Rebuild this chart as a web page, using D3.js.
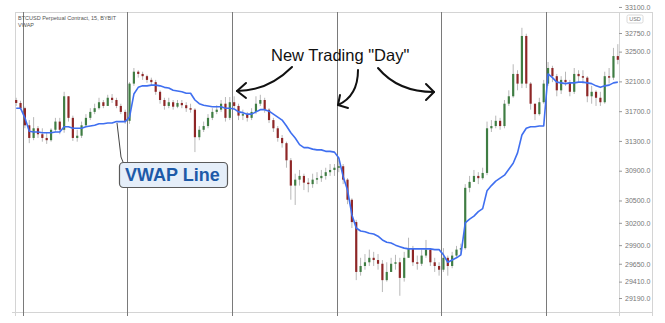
<!DOCTYPE html>
<html>
<head>
<meta charset="utf-8">
<script src="https://cdn.jsdelivr.net/npm/d3@7"></script>
<style>
  html, body { margin: 0; padding: 0; background: #fff; }
  svg { display: block; font-family: "Liberation Sans", Arial, sans-serif; }
</style>
</head>
<body>
<svg id="chart" width="665" height="323"></svg>
<script>
// BTCUSD candles, one per bar slot; open of each bar = previous close
const firstOpen = 31850;
const closes = [
  31810, 31740, 31510, 31340, 31470, 31390, 31340, 31310, 31450, 31560, 31450, 31900,
  31610, 31340, 31370, 31510, 31610, 31690, 31740, 31820, 31770, 31880, 31850, 31770,
  31690, 31570, 32070, 32230, 32200, 32170, 32120, 32090, 31960, 31850, 31770, 31820,
  31760, 31810, 31780, 31740, 31720, 31350, 31450, 31500, 31610, 31690, 31720, 31800,
  31610, 31820, 31770, 31640, 31660, 31610, 31690, 31800, 31850, 31720, 31580, 31470,
  31340, 31270, 31040, 30700, 30780, 30830, 30740, 30720, 30780, 30800, 30830, 30880,
  30910, 30940, 30960, 30780, 30510, 30210, 29540, 29620, 29670, 29730, 29700, 29650,
  29430, 29540, 29650, 29670, 29460, 29730, 29860, 29670, 29650, 29760, 29840, 29670,
  29620, 29570, 29730, 29620, 29760, 29840, 29860, 30670, 30750, 30830, 30800, 30870,
  31470, 31500, 31570, 31500, 31800, 31900, 32200, 32070, 32710, 32070, 31800, 31660,
  31820, 32070, 32280, 32170, 31980, 32120, 32090, 31960, 32200, 32170, 32150, 31900,
  31960, 31880, 31820, 32170, 32150, 32440, 32390
];
const highs = [
  31880, 31840, 31760, 31580, 31620, 31500, 31470, 31410, 31470, 31610, 31610, 31960,
  31900, 31640, 31450, 31560, 31660, 31740, 31800, 31880, 31850, 31920, 31930, 31880,
  31800, 31720, 32090, 32280, 32250, 32230, 32190, 32150, 32120, 31980, 31880, 31880,
  31850, 31850, 31850, 31820, 31800, 31740, 31500, 31560, 31660, 31740, 31780, 31850,
  31890, 31890, 31900, 31800, 31720, 31690, 31740, 31900, 31920, 31880, 31740, 31610,
  31500, 31380, 31290, 31070, 30860, 30910, 30860, 30800, 30860, 30880, 30910, 30940,
  30990, 30990, 31040, 30990, 30800, 30530, 30240, 29730, 29780, 29840, 29810, 29780,
  29700, 29670, 29730, 29770, 29730, 29810, 30000, 29890, 29760, 29840, 29970, 29860,
  29730, 29670, 29860, 29760, 29810, 29890, 29920, 30720, 30830, 30910, 30880, 30940,
  31560, 31580, 31640, 31610, 31850, 31980, 32330, 32250, 32820, 32740, 32090, 31800,
  31880, 32120, 32360, 32310, 32200, 32170, 32230, 32120, 32280, 32250, 32250, 32170,
  32040, 31980, 31960, 32230, 32280, 32550, 32600
];
const lows = [
  31770, 31720, 31470, 31270, 31310, 31340, 31290, 31260, 31290, 31420, 31390, 31410,
  31560, 31300, 31290, 31340, 31490, 31580, 31660, 31720, 31740, 31770, 31810, 31740,
  31660, 31530, 31530, 32040, 32150, 32120, 32080, 32040, 31920, 31800, 31720, 31740,
  31720, 31740, 31740, 31690, 31680, 31150, 31310, 31420, 31470, 31580, 31660, 31690,
  31560, 31580, 31720, 31580, 31580, 31560, 31580, 31660, 31770, 31680, 31540, 31420,
  31290, 31210, 30940, 30510, 30440, 30700, 30640, 30610, 30670, 30720, 30750, 30780,
  30830, 30830, 30880, 30720, 30450, 30130, 29430, 29490, 29570, 29620, 29620, 29570,
  29270, 29410, 29540, 29570, 29220, 29410, 29730, 29620, 29570, 29620, 29730, 29620,
  29540, 29490, 29540, 29490, 29590, 29730, 29780, 29840, 30610, 30750, 30720, 30780,
  30840, 31420, 31470, 31450, 31470, 31770, 31880, 31980, 32010, 32010, 31720, 31580,
  31640, 31800, 32040, 32090, 31900, 31930, 32040, 31900, 31930, 32090, 32070, 31820,
  31800, 31770, 31770, 31800, 32070, 32120, 32330
];
const vwap = [
  31740, 31740, 31610, 31430, 31420, 31420, 31410, 31410, 31410, 31420, 31420, 31490,
  31490, 31470, 31470, 31470, 31490, 31500, 31510, 31530, 31530, 31540, 31540, 31560,
  31560, 31560, 31620, 31930, 32020, 32040, 32040, 32050, 32050, 32040, 32020, 32010,
  31980, 31970, 31960, 31940, 31940, 31850, 31800, 31780, 31770, 31760, 31760, 31760,
  31740, 31740, 31730, 31690, 31680, 31660, 31660, 31690, 31720, 31720, 31700, 31660,
  31620, 31580, 31500, 31410, 31340, 31250, 31210, 31210, 31190, 31180, 31180, 31160,
  31160, 31150, 31070, 30820, 30640, 30310, 30130, 30090, 30080, 30060, 30050, 30020,
  29970, 29940, 29930, 29900, 29880, 29860, 29850, 29850, 29850, 29850, 29850, 29850,
  29840, 29840, 29770, 29670, 29700, 29730, 29770, 30200, 30250, 30290, 30350, 30390,
  30630, 30700, 30760, 30800, 30840, 30920, 31000, 31140, 31380, 31470, 31490, 31490,
  31500, 31500, 32200, 32150, 32090, 32080, 32070, 32080, 32080, 32090, 32090, 32080,
  32070, 32040, 32020, 32040, 32050, 32080, 32090
];
// bar index where each new trading day starts
const dayStarts = [2, 26, 50, 74, 98, 122];
const priceTicks = [33100, 32750, 32500, 32100, 31700, 31300, 30900, 30500, 30200, 29900, 29650, 29410, 29190];

const svg = d3.select("#chart");
const plotLeft = 15, plotRight = 619, plotTop = 12, plotBottom = 312, frameRight = 652;

const x = d3.scaleBand().domain(d3.range(closes.length)).range([14, 620]).padding(0);
const step = x.step();
const bodyW = step * 0.5;
const y = d3.scaleLinear().domain([29190, 32750]).range([298, 33]);

// frame
const frame = svg.append("g").attr("stroke", "#d4d4d4").attr("stroke-width", 1);
frame.append("line").attr("x1", plotLeft).attr("x2", frameRight).attr("y1", plotTop + 0.5).attr("y2", plotTop + 0.5);
frame.append("line").attr("x1", 12).attr("x2", frameRight).attr("y1", plotBottom + 0.5).attr("y2", plotBottom + 0.5);
frame.append("line").attr("x1", plotLeft + 0.5).attr("x2", plotLeft + 0.5).attr("y1", plotTop).attr("y2", plotBottom + 4);
frame.append("line").attr("x1", frameRight + 0.5).attr("x2", frameRight + 0.5).attr("y1", plotTop).attr("y2", plotBottom + 4);

// day separators
svg.append("g")
  .selectAll("line")
  .data(dayStarts)
  .enter()
  .append("line")
  .attr("x1", (d) => Math.round(x(d)) + 0.5)
  .attr("x2", (d) => Math.round(x(d)) + 0.5)
  .attr("y1", plotTop)
  .attr("y2", plotBottom + 4)
  .attr("stroke", "#7a7a7a")
  .attr("stroke-width", 1);

// header
svg.append("text").attr("x", 18).attr("y", 20).attr("font-size", 5.5).attr("fill", "#555")
  .text("BTCUSD Perpetual Contract, 15, BYBIT");
svg.append("text").attr("x", 18).attr("y", 27).attr("font-size", 5.5).attr("fill", "#555")
  .text("VWAP");

// candles
const candles = closes.map((c, i) => ({
  i: i,
  o: i === 0 ? firstOpen : closes[i - 1],
  c: c,
  h: highs[i],
  l: lows[i],
}));

const cg = svg.append("g");
cg.selectAll("line.wick")
  .data(candles)
  .enter()
  .append("line")
  .attr("class", "wick")
  .attr("x1", (d) => x(d.i) + step / 2)
  .attr("x2", (d) => x(d.i) + step / 2)
  .attr("y1", (d) => y(d.h))
  .attr("y2", (d) => y(d.l))
  .attr("stroke", "#b8b8b8")
  .attr("stroke-width", 1);

cg.selectAll("rect.body")
  .data(candles)
  .enter()
  .append("rect")
  .attr("class", "body")
  .attr("x", (d) => x(d.i) + (step - bodyW) / 2)
  .attr("width", bodyW)
  .attr("y", (d) => y(Math.max(d.o, d.c)))
  .attr("height", (d) => Math.max(1, Math.abs(y(d.o) - y(d.c))))
  .attr("fill", (d) => (d.c >= d.o ? "#3f7d43" : "#8e2626"));

// vwap
const vwapLine = d3.line()
  .x((d, i) => x(i) + step / 2)
  .y((d) => y(d));
svg.append("path")
  .datum(vwap)
  .attr("d", vwapLine)
  .attr("fill", "none")
  .attr("stroke", "#3f6ff0")
  .attr("stroke-width", 1.6)
  .attr("stroke-linejoin", "round");

// right price axis
svg.append("line")
  .attr("x1", plotRight + 0.5).attr("x2", plotRight + 0.5)
  .attr("y1", plotTop).attr("y2", plotBottom + 4)
  .attr("stroke", "#d4d4d4");

const axis = svg.append("g")
  .attr("transform", `translate(${plotRight},0)`)
  .call(d3.axisRight(y).tickValues(priceTicks).tickFormat(d3.format(".1f")).tickSize(3).tickPadding(3));
axis.select(".domain").remove();
axis.selectAll(".tick line").attr("stroke", "#999");
axis.selectAll(".tick text")
  .attr("fill", "#777")
  .attr("font-size", 7)
  .attr("font-family", "Liberation Sans, Arial, sans-serif");

// hide the clipped part above the frame
svg.append("rect").attr("x", 620).attr("y", 0).attr("width", 45).attr("height", 5).attr("fill", "#fff");

const usd = svg.append("g");
usd.append("rect").attr("x", 627).attr("y", 15).attr("width", 16).attr("height", 8).attr("rx", 1.5)
  .attr("fill", "#fff").attr("stroke", "#cfcfcf").attr("stroke-width", 0.8);
usd.append("text").attr("x", 635).attr("y", 21.3).attr("text-anchor", "middle")
  .attr("font-size", 5.5).attr("fill", "#777").text("USD");

// annotation: new trading day
const note = svg.append("g").attr("fill", "none").attr("stroke", "#111").attr("stroke-width", 2)
  .attr("stroke-linecap", "round").attr("stroke-linejoin", "round");
note.append("path").attr("d", "M292,67 Q268,91 237,91");
note.append("path").attr("d", "M246,83 L237,91 L246,98");
note.append("path").attr("d", "M358,70 Q358,96 338,105");
note.append("path").attr("d", "M340,95 L338,105 L348,108");
note.append("path").attr("d", "M378,68 Q398,92 434,92");
note.append("path").attr("d", "M426,84 L434,92 L426,100");

svg.append("text")
  .attr("x", 271).attr("y", 61)
  .attr("font-size", 16.5)
  .attr("fill", "#111")
  .text("New Trading \"Day\"");

// annotation: vwap line label
svg.append("path")
  .attr("d", "M117,123 L121,157 L123,162")
  .attr("fill", "none").attr("stroke", "#444").attr("stroke-width", 1);
svg.append("rect")
  .attr("x", 119.5).attr("y", 162.5).attr("width", 108).attr("height", 25).attr("rx", 4)
  .attr("fill", "#e5eef9").attr("stroke", "#5a5a5a").attr("stroke-width", 1.2);
svg.append("text")
  .attr("x", 125).attr("y", 180.5)
  .attr("font-size", 18).attr("font-weight", "bold")
  .attr("fill", "#1d5aa8")
  .text("VWAP Line");
</script>
</body>
</html>
